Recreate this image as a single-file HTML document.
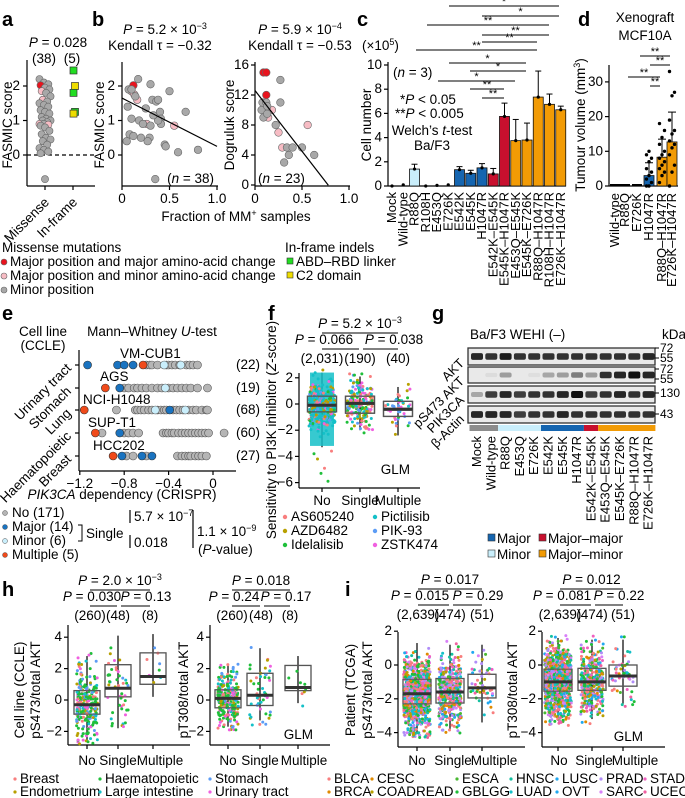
<!DOCTYPE html>
<html><head><meta charset="utf-8">
<style>
html,body{margin:0;padding:0;background:#fff;}
svg{display:block;font-family:"Liberation Sans",Arial,sans-serif;}
</style></head>
<body>
<svg id="fig" width="685" height="798" viewBox="0 0 685 798" xmlns="http://www.w3.org/2000/svg">
<rect x="0" y="0" width="685" height="798" fill="#fff"/>
</svg>
<script>
// ---------- DATA ----------
const aMissense = [2.2,2.1,2.05,2.02,1.95,1.9,1.85,1.8,1.7,1.6,1.55,1.5,1.45,1.4,1.3,1.25,1.2,1.1,1.05,1.0,1.0,0.95,0.9,0.9,0.88,0.85,0.8,0.7,0.6,0.5,0.45,0.4,0.3,0.2,0.15,0.1,0.05,-0.7];
const aMissenseType = ['g','g','g','r','g','g','p','g','g','p','g','g','g','g','g','g','g','g','g','g','g','g','p','g','p','g','g','g','g','g','g','g','g','g','g','g','g','g'];
const aInframe = [2.45,2.0,1.8,1.25,1.2];
const aInframeType = ['green','yellow','green','green','yellow'];
const bLeftX = [0.12,0.1,0.13,0.16,0.26,0.55,0.07,0.17,0.06,0.25,0.3,0.32,0.36,0.38,0.5,0.4,0.41,0.41,0.67,0.1,0.18,0.08,0.12,0.2,0.22,0.3,0.29,0.27,0.45,0.46,0.59,0.8,0.05,0.35,0.38,0.1,0.14,0.33];
const bLeftY = [2.02,1.85,1.75,1.6,0.9,0.85,1.9,2.2,1.4,1.35,2.05,1.6,1.55,1.6,1.85,1.25,1.05,0.9,1.25,1.05,1.0,0.6,0.55,0.5,0.9,0.85,0.5,0.4,0.3,0.25,0.08,0.15,0.4,-0.7,1.0,1.9,1.7,1.15];
const bLeftT = ['r','p','p','p','p','p','g','g','g','g','g','g','g','g','g','g','g','g','g','g','g','g','g','g','g','g','g','g','g','g','g','g','g','g','g','g','g','g'];
const bRightX = [0.09,0.12,0.12,0.14,0.18,0.25,0.29,0.56,0.08,0.12,0.07,0.09,0.13,0.27,0.27,0.22,0.34,0.36,0.4,0.5,0.63,0.31,0.13];
const bRightY = [15,15,12,9,10,7,5,8,11,11,10,9,9.5,14,11,8,5,4,5,5,4,3,10.5];
const bRightT = ['r','r','r','p','p','p','p','p','g','g','g','g','g','g','g','g','g','g','g','g','g','g','g'];
const bLeftFit = [1.65,0.25];
const bRightFit = [12.6,-3.6];
const cCategories = ['Mock','Wild-type','R88Q','R108H','E453Q','E726K','E542K','E545K','H1047R','E542K–E545K','E545K–H1047R','E453Q–E545K','E545K–E726K','R88Q–H1047R','R108H–H1047R','E726K–H1047R'];
const cValues = [0,0.1,1.4,0,0.05,0.1,1.35,1.05,1.5,1.0,5.75,3.75,3.8,7.35,6.75,6.3];
const cErrTop = [0,0.15,1.8,0,0.08,0.15,1.6,1.3,1.85,1.45,6.85,5.5,5.2,9.5,7.6,6.6];
const cGroup = ['none','none','minor','minor','minor','minor','major','major','major','mm','mm','mn','mn','mn','mn','mn'];
const cYTicks = [0,2,4,6,8,10];
const dCategories = ['Wild-type','R88Q','E726K','H1047R','R88Q–H1047R','E726K–H1047R'];
const dValues = [0,0,0,3,8.3,12.7];
const dErrTop = [0,0,0,6.7,13.5,21.3];
const dGroup = ['none','none','none','major','mn','mn'];
const dYTicks = [0,10,20,30];
const eRows = ['Urinary tract','Stomach','Lung','Haematopoietic','Breast'];
const eCounts = ['(22)','(19)','(68)','(60)','(27)'];
const eNo = [[-0.6,-0.57,-0.55,-0.42,-0.4,-0.37,-0.34,-0.3,-0.24,-0.21,-0.18,-0.14,-0.5],[-0.8,-0.76,-0.71,-0.68,-0.64,-0.6,-0.55,-0.5,-0.46,-0.4,-0.36,-0.32,-0.28,-0.24,-0.2,-0.14,-0.05],[-0.87,-0.7,-0.68,-0.65,-0.62,-0.58,-0.55,-0.5,-0.47,-0.44,-0.42,-0.36,-0.33,-0.3,-0.27,-0.22,-0.18,-0.15,-0.1,-0.06,-0.05],[-1.0,-0.8,-0.76,-0.72,-0.67,-0.45,-0.42,-0.4,-0.37,-0.35,-0.31,-0.28,-0.25,-0.22,-0.19,-0.16,-0.13,-0.1,-0.07,-0.04,0.1],[-0.78,-0.72,-0.6,-0.32,-0.28,-0.25,-0.22,-0.2,-0.16,-0.13,-0.1,-0.06]];
const eMajor = [[-1.13,-0.86,-0.8,-0.72],[-0.84],[-0.39],[-0.84],[-0.82,-0.64,-0.55]];
const eMinor = [[-0.44,-0.29],[-0.43],[-0.52,-0.25],[],[]];
const eMultiple = [[-0.63],[-0.97],[-1.16],[-1.06],[-0.9]];
const eXTicks = [-1.2,-0.8,-0.4,0];
const fCats = ['No','Single','Multiple'];
const fQ1 = [-0.6,-0.7,-0.95], fMed=[-0.1,0.05,-0.4], fQ3=[0.6,0.6,0.2], fLo=[-3.3,-2.0,-2.4], fHi=[2.4,2.1,1.3], fN=[700,190,40];
const fYTicks = [2,0,-2,-4,-6];
const hLQ1=[-0.9,0.2,1.0], hLMed=[-0.3,0.75,1.5], hLQ3=[0.6,2.25,3.0], hLLo=[-2.6,-1.8,0.2], hLHi=[2.8,4.1,4.2], hN=[260,48,8];
const hRQ1=[-0.5,-0.35,0.6], hRMed=[0.1,0.3,0.8], hRQ3=[0.65,1.7,2.2], hRLo=[-1.7,-1.3,-0.2], hRHi=[2.3,3.3,2.8];
const hYTicks = [4,2,0,-2];
const iLQ1=[-2.3,-2.25,-1.95], iLMed=[-1.7,-1.6,-1.35], iLQ3=[-0.85,-0.8,-0.55], iLLo=[-4.0,-3.9,-3.4], iLHi=[1.3,1.2,1.2], iN=[900,400,51];
const iRQ1=[-1.55,-1.5,-1.25], iRMed=[-1.0,-1.0,-0.65], iRQ3=[-0.25,-0.2,0.0], iRLo=[-3.3,-3.2,-2.3], iRHi=[1.6,1.5,1.5];
const iYTicks = [2,0,-2,-4];
const gLanes = ['Mock','Wild-type','R88Q','E453Q','E726K','E542K','E545K','H1047R','E542K–E545K','E453Q–E545K','E545K–E726K','R88Q–H1047R','E726K–H1047R'];
const gAKT = [0.9,0.85,0.95,0.85,0.85,0.85,0.85,0.85,0.85,0.85,0.85,0.85,0.9];
const gPS473 = [0,0.06,0.35,0,0.05,0.3,0.35,0.5,0.35,0.85,0.9,1,0.9];
const gPIK = [0.3,0.8,0.9,0.8,0.85,0.85,0.9,1,0.8,0.85,0.9,0.85,0.9];
const gActin = [0.9,0.9,0.9,0.8,0.85,0.85,0.9,0.85,0.85,0.85,0.85,0.85,0.85];

// ---------- HELPERS ----------
const NS='http://www.w3.org/2000/svg';
const svg=document.getElementById('fig');
function mk(tag,attrs,name,parent){
  const e=document.createElementNS(NS,tag);
  for(const k in attrs) e.setAttribute(k,attrs[k]);
  
  
  (parent||svg).appendChild(e);
  return e;
}
function tx(x,y,html,name,o){
  o=o||{};
  const a={x:x,y:y,'font-size':o.fs||13.5,fill:o.fill||'#000','text-anchor':o.anchor||'start'};
  if(o.rot!==undefined) a.transform='rotate('+o.rot+' '+x+' '+y+')';
  if(o.bold) a['font-weight']='bold';
  const e=mk('text',a,name);
  e.innerHTML=html;
  return e;
}
function line(x1,y1,x2,y2,name,o){o=o||{};return mk('line',{x1:x1,y1:y1,x2:x2,y2:y2,stroke:o.stroke||'#000','stroke-width':o.w||1.2,'stroke-dasharray':o.dash||'none'},name);}
const sup=s=>'<tspan dy="-5" font-size="9">'+s+'</tspan>';
let seed=12345;
function rnd(){seed=(seed*1103515245+12345)%2147483648;return seed/2147483648;}
function gauss(){let u=rnd()||1e-6,v=rnd();return Math.sqrt(-2*Math.log(u))*Math.cos(2*Math.PI*v);}
const colT={r:'#e8141e',p:'#f7bcc4',g:'#a8a8a8'};

// ---------- PANEL LETTERS ----------
[['a',2,26],['b',92,26],['c',357,26],['d',578,26],['e',2,320],['f',268,320],['g',432,320],['h',2,596],['i',345,596]].forEach(p=>{
  tx(p[1],p[2],p[0],'panel-label-'+p[0],{fs:20,bold:true});
});

// ---------- PANEL A ----------
const aY=v=>155-34.5*v;
line(27,60,27,186,'a-y-axis');line(27,186,95,186,'a-x-axis');
[0,1,2].forEach(v=>{line(23,aY(v),27,aY(v),'a-y-tick');tx(20,aY(v)+4,String(v),'a-y-tick-label',{anchor:'end'});});
line(27,aY(0),95,aY(0),'a-zero-line',{dash:'4,3'});
line(45,186,45,190,'a-x-tick');line(73,186,73,190,'a-x-tick');
tx(12,125,'FASMIC score','a-y-axis-title',{rot:-90,anchor:'middle'});
tx(58,47,'<tspan font-style="italic">P</tspan> = 0.028','a-p-value',{anchor:'middle'});
tx(44,63,'(38)','a-count-missense',{anchor:'middle'});tx(72,63,'(5)','a-count-inframe',{anchor:'middle'});
aMissense.forEach((v,i)=>{const jx=((i*37)%11-5)*1.1;mk('circle',{cx:45+jx,cy:aY(v),r:3.6,fill:colT[aMissenseType[i]],stroke:'#666','stroke-width':0.6},'a-missense-point');});
aInframe.forEach((v,i)=>{mk('rect',{x:70+(i%2)*1.5,y:aY(v)-3.5,width:7,height:7,fill:aInframeType[i]==='green'?'#22dd22':'#eedd00',stroke:'#333','stroke-width':0.7},'a-inframe-point');});
tx(50,203,'Missense','a-x-label-missense',{rot:-45,anchor:'end'});
tx(78,203,'In-frame','a-x-label-inframe',{rot:-45,anchor:'end'});

// ---------- PANEL B ----------
const bLX=v=>122+95*v, bLY=v=>155-34.5*v;
line(122,62,122,186,'b-left-y-axis');line(122,186,218,186,'b-left-x-axis');
[0,1,2].forEach(v=>{line(118,bLY(v),122,bLY(v),'b-left-y-tick');tx(115,bLY(v)+4,String(v),'b-left-y-tick-label',{anchor:'end'});});
[0,0.5,1].forEach(v=>{line(bLX(v),186,bLX(v),190,'b-left-x-tick');tx(bLX(v),203,v===0?'0':v.toFixed(1),'b-left-x-tick-label',{anchor:'middle'});});
tx(104,125,'FASMIC score','b-left-y-axis-title',{rot:-90,anchor:'middle'});
tx(165,34,'<tspan font-style="italic">P</tspan> = 5.2 × 10'+sup('−3'),'b-left-p-value',{anchor:'middle'});
tx(160,50,'Kendall τ = −0.32','b-left-kendall',{anchor:'middle'});
bLeftX.forEach((x,i)=>{mk('circle',{cx:bLX(x),cy:bLY(bLeftY[i]),r:3.8,fill:colT[bLeftT[i]],stroke:'#666','stroke-width':0.6},'b-left-point');});
line(bLX(0),bLY(bLeftFit[0]),bLX(1),bLY(bLeftFit[1]),'b-left-fit-line');
tx(214,183,'(<tspan font-style="italic">n</tspan> = 38)','b-left-n',{anchor:'end'});
const bRX=v=>255+94*v, bRY=v=>185-7.5*v;
line(255,62,255,186,'b-right-y-axis');line(255,186,350,186,'b-right-x-axis');
[0,4,8,12,16].forEach(v=>{line(251,bRY(v),255,bRY(v),'b-right-y-tick');tx(249,bRY(v)+4,String(v),'b-right-y-tick-label',{anchor:'end'});});
[0,0.5,1].forEach(v=>{line(bRX(v),186,bRX(v),190,'b-right-x-tick');tx(bRX(v),203,v===0?'0':v.toFixed(1),'b-right-x-tick-label',{anchor:'middle'});});
tx(234,125,'Dogruluk score','b-right-y-axis-title',{rot:-90,anchor:'middle'});
tx(300,34,'<tspan font-style="italic">P</tspan> = 5.9 × 10'+sup('−4'),'b-right-p-value',{anchor:'middle'});
tx(300,50,'Kendall τ = −0.53','b-right-kendall',{anchor:'middle'});
bRightX.forEach((x,i)=>{mk('circle',{cx:bRX(x),cy:bRY(bRightY[i]),r:3.8,fill:colT[bRightT[i]],stroke:'#666','stroke-width':0.6},'b-right-point');});
line(bRX(0),bRY(bRightFit[0]),bRX(0.78),bRY(bRightFit[0]+(bRightFit[1]-bRightFit[0])*0.78),'b-right-fit-line');
tx(258,183,'(<tspan font-style="italic">n</tspan> = 23)','b-right-n');
tx(236,221,'Fraction of MM'+sup('+')+'<tspan dy="5"> samples</tspan>','b-x-axis-title',{anchor:'middle'});

// legend a/b
tx(2,252,'Missense mutations','legend-missense-title');
[['r','Major position and major amino-acid change',266],['p','Major position and minor amino-acid change',280],['g','Minor position',294]].forEach(l=>{
  mk('circle',{cx:4,cy:l[2]-4,r:3,fill:colT[l[0]],stroke:'#666','stroke-width':0.6},'legend-missense-marker');
  tx(10,l[2],l[1],'legend-missense-entry');
});
tx(285,252,'In-frame indels','legend-inframe-title');
[['#22dd22','ABD–RBD linker',266],['#eedd00','C2 domain',280]].forEach(l=>{
  mk('rect',{x:287,y:l[2]-8,width:6,height:6,fill:l[0],stroke:'#333','stroke-width':0.6},'legend-inframe-marker');
  tx(296,l[2],l[1],'legend-inframe-entry');
});

// ---------- PANEL C ----------
const cCol={none:'#000',minor:'#c9eefb',major:'#1565b0',mm:'#c8102e',mn:'#f29b05'};
const cY=v=>186-12.1*v, cX=i=>392+11.25*i;
line(388,62,388,186,'c-y-axis');line(388,186,566,186,'c-x-axis');
cYTicks.forEach(v=>{line(384,cY(v),388,cY(v),'c-y-tick');tx(382,cY(v)+4,String(v),'c-y-tick-label',{anchor:'end'});});
tx(371,125,'Cell number','c-y-axis-title',{rot:-90,anchor:'middle'});
tx(362,50,'(×10'+sup('5')+'<tspan dy="5">)</tspan>','c-unit-label');
tx(393,77,'(<tspan font-style="italic">n</tspan> = 3)','c-n-label');
tx(400,104,'*<tspan font-style="italic">P</tspan> &lt; 0.05','c-legend-p1');
tx(395,118,'**<tspan font-style="italic">P</tspan> &lt; 0.005','c-legend-p2');
tx(432,135,'Welch’s <tspan font-style="italic">t</tspan>-test','c-test-label',{anchor:'middle'});
tx(432,150,'Ba/F3','c-cell-label',{anchor:'middle'});
cValues.forEach((v,i)=>{
  const x=cX(i);
  if(cGroup[i]!=='none'&&v>0.2) mk('rect',{x:x-5,y:cY(v),width:10,height:186-cY(v),fill:cCol[cGroup[i]],stroke:'#111','stroke-width':0.8},'c-bar-'+cCategories[i]);
  if(cErrTop[i]-v>0.05){line(x,cY(v),x,cY(cErrTop[i]),'c-error-bar',{w:1});line(x-3,cY(cErrTop[i]),x+3,cY(cErrTop[i]),'c-error-cap',{w:1});}
  mk('circle',{cx:x,cy:cY(v),r:1.6,fill:'#000'},'c-point');
  tx(x+4,192,cCategories[i],'c-x-label',{rot:-90,anchor:'end',fs:13});
});
const cSig=[[449,559,6,'*'],[482,559,16,'*'],[427,549,25,'**'],[482,549,35,'**'],[482,537,42,'**'],[416,537,50,'**'],[449,526,63,'*'],[470,526,71,'*'],[438,515,81,'*'],[470,504,89,'**'],[482,504,98,'**']];
cSig.forEach(s=>{line(s[0],s[2],s[1],s[2],'c-significance-line',{w:1});tx((s[0]+s[1])/2,s[2]-1,s[3],'c-significance-star',{anchor:'middle',fs:11});});

// ---------- PANEL D ----------
const dY=v=>186-3.47*v, dXc=[615,625,637,649,662,672];
line(609,65,609,186,'d-y-axis');line(609,186,678,186,'d-x-axis');
dYTicks.forEach(v=>{line(605,dY(v),609,dY(v),'d-y-tick');tx(603,dY(v)+4,String(v),'d-y-tick-label',{anchor:'end'});});
tx(585,125,'Tumour volume (mm'+sup('3')+'<tspan dy="5">)</tspan>','d-y-axis-title',{rot:-90,anchor:'middle'});
tx(645,22,'Xenograft','d-title-1',{anchor:'middle'});tx(645,40,'MCF10A','d-title-2',{anchor:'middle'});
dValues.forEach((v,i)=>{
  const x=dXc[i];
  if(v>0) mk('rect',{x:x-5,y:dY(v),width:10,height:186-dY(v),fill:cCol[dGroup[i]],stroke:'#111','stroke-width':0.8},'d-bar-'+dCategories[i]);
  else line(x-5,185,x+5,185,'d-zero-bar',{w:2});
  if(dErrTop[i]>v){line(x,dY(v),x,dY(dErrTop[i]),'d-error-bar',{w:1});line(x-4,dY(dErrTop[i]),x+4,dY(dErrTop[i]),'d-error-cap',{w:1});}
  tx(x+4,193,dCategories[i],'d-x-label',{rot:-90,anchor:'end',fs:13});
});
const dPts=[[],[],[],[0,0,1,2,3,4,5,7,8,9,10],[1,3,4,5,6,7,8,9,10,12,14,16,18],[0,4,6,9,11,12,13,15,16,19,26,27,33]];
dPts.forEach((arr,i)=>arr.forEach((v,j)=>mk('circle',{cx:dXc[i]+((j%3)-1)*2.5,cy:dY(v),r:1.7,fill:'#000'},'d-point')));
[[640,670,56],[650,670,65],[628,660,77],[650,660,86]].forEach(s=>{line(s[0],s[2],s[1],s[2],'d-significance-line',{w:1});tx((s[0]+s[1])/2,s[2]-1,'**','d-significance-star',{anchor:'middle',fs:11});});

// ---------- PANEL E ----------
const eX=v=>213+111*v, eYr=[365,388,410,433,456];
line(79,350,79,471,'e-y-axis');line(79,471,236,471,'e-x-axis');
eXTicks.forEach(v=>{line(eX(v),471,eX(v),475,'e-x-tick');tx(eX(v),488,v===0?'0':'−'+Math.abs(v).toFixed(1),'e-x-tick-label',{anchor:'middle'});});
tx(43,336,'Cell line','e-cellline-title',{anchor:'middle'});tx(43,350,'(CCLE)','e-ccle-title',{anchor:'middle'});
tx(152,336,'Mann–Whitney <tspan font-style="italic">U</tspan>-test','e-test-title',{anchor:'middle'});
eRows.forEach((r,k)=>{
  line(75,eYr[k],79,eYr[k],'e-y-tick');
  tx(72,eYr[k]+4,r,'e-row-label',{rot:-45,anchor:'end'});
  tx(248,eYr[k]+4,eCounts[k],'e-count-label',{anchor:'middle'});
  eNo[k].forEach(v=>mk('circle',{cx:eX(v),cy:eYr[k],r:4,fill:'#b5b5b5',stroke:'#555','stroke-width':0.6},'e-point-no'));
  eMinor[k].forEach(v=>mk('circle',{cx:eX(v),cy:eYr[k],r:4,fill:'#c9eefb',stroke:'#555','stroke-width':0.6},'e-point-minor'));
  eMajor[k].forEach(v=>mk('circle',{cx:eX(v),cy:eYr[k],r:4,fill:'#1a73c0',stroke:'#333','stroke-width':0.6},'e-point-major'));
  eMultiple[k].forEach(v=>mk('circle',{cx:eX(v),cy:eYr[k],r:4,fill:'#f04a1a',stroke:'#333','stroke-width':0.6},'e-point-multiple'));
});
[['VM-CUB1',120,358],['AGS',100,381],['NCI-H1048',83,404],['SUP-T1',88,427],['HCC202',93,450]].forEach(c=>tx(c[1],c[2],c[0],'e-cellline-annotation'));
tx(122,499,'<tspan font-style="italic">PIK3CA</tspan> dependency (CRISPR)','e-x-axis-title',{anchor:'middle'});
[['#b5b5b5','No (171)',517],['#1a73c0','Major (14)',531],['#c9eefb','Minor (6)',545],['#f04a1a','Multiple (5)',559]].forEach(l=>{
  mk('circle',{cx:5,cy:l[2]-4,r:2.5,fill:l[0],stroke:'#555','stroke-width':0.5},'e-legend-marker');
  tx(12,l[2],l[1],'e-legend-entry');
});
mk('path',{d:'M78,525 H82 V541 H78',fill:'none',stroke:'#000','stroke-width':1},'e-legend-bracket');
tx(86,538,'Single','e-legend-single');
line(130,510,130,523,'e-p-divider');line(130,535,130,548,'e-p-divider');
tx(134,521,'5.7 × 10'+sup('−7'),'e-p-value-1');tx(134,547,'0.018','e-p-value-2');
line(193,510,193,548,'e-p-divider');
tx(197,536,'1.1 × 10'+sup('−9'),'e-p-value-3');tx(198,554,'(<tspan font-style="italic">P</tspan>-value)','e-p-value-label');

// ---------- BOX-PLOT HELPER ----------
function boxPanel(pfx,axX,axTop,axBot,axRight,y0,ppu,cx,bw,q1,med,q3,lo,hi,n,palette,ticks,dense){
  const Y=v=>y0-ppu*v;
  line(axX,axTop,axX,axBot,pfx+'-y-axis');line(axX,axBot,axRight,axBot,pfx+'-x-axis');
  ticks.forEach(v=>{line(axX-4,Y(v),axX,Y(v),pfx+'-y-tick');tx(axX-6,Y(v)+4,v<0?'−'+Math.abs(v):String(v),pfx+'-y-tick-label',{anchor:'end'});});
  cx.forEach((x,i)=>{
    line(x,axBot,x,axBot+4,pfx+'-x-tick');
    line(x,Y(lo[i]),x,Y(hi[i]),pfx+'-whisker',{w:1.2});
    mk('rect',{x:x-bw/2,y:Y(q3[i]),width:bw,height:Y(q1[i])-Y(q3[i]),fill:'none',stroke:'#555','stroke-width':1.2},pfx+'-box');
    const sd=(q3[i]-q1[i])/1.35;
    for(let k=0;k<n[i];k++){
      let v=med[i]+gauss()*sd; if(v<lo[i]-0.3) v=lo[i]-0.3*rnd(); if(v>hi[i]+0.3) v=hi[i]+0.3*rnd();
      const jx=(rnd()-0.5)*bw*(dense&&i===0?0.95:0.8);
      const c=palette[Math.floor(rnd()*palette.length)];
      mk('circle',{cx:x+jx,cy:Y(v),r:1.5,fill:c},pfx+'-point');
    }
    mk('rect',{x:x-bw/2,y:Y(q3[i]),width:bw,height:Y(q1[i])-Y(q3[i]),fill:'none',stroke:'#555','stroke-width':1.2,'stroke-opacity':0.8},pfx+'-box-outline');
    line(x-bw/2,Y(med[i]),x+bw/2,Y(med[i]),pfx+'-median',{w:3,stroke:'#333'});
  });
}
function pHeader(pfx,top,l,r,y,cx,counts){
  tx((cx[0]+cx[2])/2,y,top,pfx+'-p-overall',{anchor:'middle'});
  line(cx[0],y+5,cx[2],y+5,pfx+'-bracket-overall',{w:1});
  tx(cx[0]+2,y+16,l,pfx+'-p-left',{anchor:'middle'});
  tx(cx[2]-4,y+16,r,pfx+'-p-right',{anchor:'middle'});
  line(cx[0],y+21,cx[1]-1,y+21,pfx+'-bracket-left',{w:1});line(cx[1]+3,y+21,cx[2],y+21,pfx+'-bracket-right',{w:1});
  counts.forEach((c,i)=>tx(cx[i],y+35,c,pfx+'-count',{anchor:'middle'}));
}
const P='<tspan font-style="italic">P</tspan> = ';

// ---------- PANEL F ----------
const fPal=['#f87e7e','#b8a000','#1fbf3a','#14c0c8','#5c9cf5','#f060e0'];
const fPal0=['#14c0c8','#14c0c8','#14c0c8','#14c0c8','#14c0c8','#5c9cf5','#f87e7e','#1fbf3a','#f060e0','#b8a000'];
boxPanel('f',299,373,488,420,404,13.1,[322,360,398],29,fQ1,fMed,fQ3,fLo,fHi,[0,0,0],fPal,fYTicks,true);
{const Y=v=>404-13.1*v;
 mk('rect',{x:310,y:Y(2.4),width:24,height:Y(-3.2)-Y(2.4),fill:'#14c0c8','fill-opacity':0.85},'f-no-cloud');
 seed=777;
 [[322,0,fPal0,350],[360,1,fPal,190],[398,2,fPal,40]].forEach(c=>{const i=c[1];const sd=(fQ3[i]-fQ1[i])/1.35;
  for(let k=0;k<c[3];k++){let v=fMed[i]+gauss()*sd;v=Math.max(fLo[i]-0.2,Math.min(fHi[i]+0.2,v));
   mk('circle',{cx:c[0]+(rnd()-0.5)*26,cy:Y(v),r:1.5,fill:c[2][Math.floor(rnd()*c[2].length)]},'f-point');}});
 [[-3.8,'#1fbf3a'],[-4.2,'#b8a000'],[-5.3,'#1fbf3a'],[-4.9,'#f87e7e'],[-5.9,'#1fbf3a'],[-3.6,'#f87e7e']].forEach((p,k)=>mk('circle',{cx:314+k*3.5,cy:Y(p[0]),r:1.5,fill:p[1]},'f-outlier'));
 [0,1,2].forEach(i=>{mk('rect',{x:[322,360,398][i]-14.5,y:Y(fQ3[i]),width:29,height:Y(fQ1[i])-Y(fQ3[i]),fill:'none',stroke:'#555','stroke-width':1.2},'f-box-top');line([322,360,398][i]-14.5,Y(fMed[i]),[322,360,398][i]+14.5,Y(fMed[i]),'f-median-top',{w:3,stroke:'#333'});});
}
pHeader('f',P+'5.2 × 10'+sup('−3'),P+'0.066',P+'0.038',328,[322,360,398],['(2,031)','(190)','(40)']);
tx(276,430,'Sensitivity to PI3K inhibitor (<tspan font-style="italic">Z</tspan>-score)','f-y-axis-title',{rot:-90,anchor:'middle'});
tx(410,474,'GLM','f-glm-label',{anchor:'end'});
['No','Single','Multiple'].forEach((c,i)=>tx([322,360,398][i],505,c,'f-x-label',{anchor:'middle'}));
[['#f87e7e','AS605240',283,521],['#b8a000','AZD6482',283,535],['#1fbf3a','Idelalisib',283,549],['#14c0c8','Pictilisib',373,521],['#5c9cf5','PIK-93',373,535],['#f060e0','ZSTK474',373,549]].forEach(l=>{
  mk('circle',{cx:l[2]+2,cy:l[3]-4,r:2.2,fill:l[0]},'f-legend-marker');tx(l[2]+8,l[3],l[1],'f-legend-entry');});

// ---------- PANEL G ----------
tx(470,339,'Ba/F3 WEHI (–)','g-title');tx(662,339,'kDa','g-kda-label');
const gX=i=>477+i*14.3;
[[348,365,gAKT,'akt'],[367,383,gPS473,'ps473'],[386,403,gPIK,'pik3ca'],[406,423,gActin,'actin']].forEach(r=>{
  mk('rect',{x:468,y:r[0],width:187,height:r[1]-r[0],fill:'#e9e9e9',stroke:'#333','stroke-width':1.3},'g-blot-'+r[3]);
  const cy=(r[0]+r[1])/2;
  r[2].forEach((v,i)=>{if(v>0.02) mk('rect',{x:gX(i)-6,y:cy-2-v*1.5,width:12,height:4+v*3,rx:2,fill:'#111','fill-opacity':Math.min(1,v)},'g-band-'+r[3]);});
});
[[0,2,'#8c8c8c'],[2,5,'#c9eefb'],[5,8,'#1565b0'],[8,9,'#c8102e'],[9,13,'#f29b05']].forEach(s=>mk('rect',{x:gX(s[0])-7.5,y:425,width:(s[1]-s[0])*14.3,height:6,fill:s[2]},'g-group-bar'));
[['72',352],['55',362],['72',373],['55',383],['130',397],['43',418]].forEach(k=>{line(655,k[1]-4,659,k[1]-4,'g-kda-tick',{w:1});tx(660,k[1],k[0],'g-kda-value',{fs:12});});
[['AKT',465,364],['pS473 AKT',465,382],['PIK3CA',465,401],['β-Actin',465,420]].forEach(l=>tx(l[1],l[2],l[0],'g-row-label',{rot:-45,anchor:'end',fs:13}));
gLanes.forEach((l,i)=>tx(gX(i)+4,436,l,'g-lane-label',{rot:-90,anchor:'end',fs:13}));
[['#1565b0','Major',497,543],['#c8102e','Major–major',548,543],['#c9eefb','Minor',497,559],['#f29b05','Major–minor',548,559]].forEach(l=>{
  mk('rect',{x:l[2]-9,y:l[3]-9,width:7,height:7,fill:l[0],stroke:'#333','stroke-width':0.6},'g-legend-marker');tx(l[2],l[3],l[1],'g-legend-entry');});

// ---------- PANEL H ----------
const hPal=['#f87e7e','#b8a000','#1fbf3a','#14c0c8','#5c9cf5','#f060e0','#1fbf3a','#1fbf3a'];
seed=4242;
boxPanel('h-left',68,625,745,190,700,15.7,[87,118,153],26,hLQ1,hLMed,hLQ3,hLLo,hLHi,hN,hPal,hYTicks,false);
boxPanel('h-right',210,625,745,330,700,15.7,[228,260,298],26,hRQ1,hRMed,hRQ3,hRLo,hRHi,hN,hPal,hYTicks,false);
pHeader('h-left',P+'2.0 × 10'+sup('−3'),P+'0.030',P+'0.13',585,[90,118,150],['(260)','(48)','(8)']);
pHeader('h-right',P+'0.018',P+'0.24',P+'0.17',585,[232,261,290],['(260)','(48)','(8)']);
tx(24,690,'Cell line (CCLE)','h-y-axis-title-1',{rot:-90,anchor:'middle'});
tx(40,690,'pS473/total AKT','h-y-axis-title-2',{rot:-90,anchor:'middle'});
tx(188,690,'pT308/total AKT','h-right-y-axis-title',{rot:-90,anchor:'middle'});
tx(313,739,'GLM','h-glm-label',{anchor:'end'});
['No','Single','Multiple'].forEach((c,i)=>{tx([87,118,160][i],765,c,'h-left-x-label',{anchor:'middle'});tx([228,260,304][i],765,c,'h-right-x-label',{anchor:'middle'});});
[['#f87e7e','Breast',20,783],['#b8a000','Endometrium',20,796],['#1fbf3a','Haematopoietic',105,783],['#14c0c8','Large intestine',105,796],['#5c9cf5','Stomach',215,783],['#f060e0','Urinary tract',215,796]].forEach(l=>{
  mk('circle',{cx:l[2]-5,cy:l[3]-4,r:1.6,fill:l[0]},'h-legend-marker');tx(l[2],l[3],l[1],'h-legend-entry');});

// ---------- PANEL I ----------
const iPal=['#f87e7e','#e08a00','#b8a000','#49b833','#1fbf3a','#14c0a0','#14c0c8','#20a8f0','#b08cf8','#d880f8','#f060c0','#f060a0','#f87e7e','#1fbf3a','#b08cf8'];
seed=999;
boxPanel('i-left',398,632,747,525,665,16.9,[417,450,482],28,iLQ1,iLMed,iLQ3,iLLo,iLHi,iN,iPal,iYTicks,true);
boxPanel('i-right',542,632,747,665,665,16.9,[558,592,623],28,iRQ1,iRMed,iRQ3,iRLo,iRHi,iN,iPal,iYTicks,true);
pHeader('i-left',P+'0.017',P+'0.015',P+'0.29',584,[418,450,482],['(2,639)','(474)','(51)']);
pHeader('i-right',P+'0.012',P+'0.081',P+'0.22',584,[560,592,623],['(2,639)','(474)','(51)']);
tx(355,690,'Patient (TCGA)','i-y-axis-title-1',{rot:-90,anchor:'middle'});
tx(372,690,'pS473/total AKT','i-y-axis-title-2',{rot:-90,anchor:'middle'});
tx(517,690,'pT308/total AKT','i-right-y-axis-title',{rot:-90,anchor:'middle'});
tx(643,741,'GLM','i-glm-label',{anchor:'end'});
['No','Single','Multiple'].forEach((c,i)=>{tx([417,453,494][i],765,c,'i-left-x-label',{anchor:'middle'});tx([559,594,635][i],765,c,'i-right-x-label',{anchor:'middle'});});
[['#f87e7e','BLCA',334,783],['#e08a00','BRCA',334,796],['#e08a00','CESC',377,783],['#b8a000','COADREAD',377,796],['#49b833','ESCA',462,783],['#1fbf3a','GBLGG',462,796],['#14c0a0','HNSC',516,783],['#14c0c8','LUAD',516,796],['#20a8f0','LUSC',562,783],['#20a8f0','OVT',562,796],['#b08cf8','PRAD',606,783],['#d880f8','SARC',606,796],['#f060c0','STAD',650,783],['#f060a0','UCEC',650,796]].forEach(l=>{
  mk('circle',{cx:l[2]-5,cy:l[3]-4,r:1.6,fill:l[0]},'i-legend-marker');tx(l[2],l[3],l[1],'i-legend-entry');});
</script>
</body></html>
